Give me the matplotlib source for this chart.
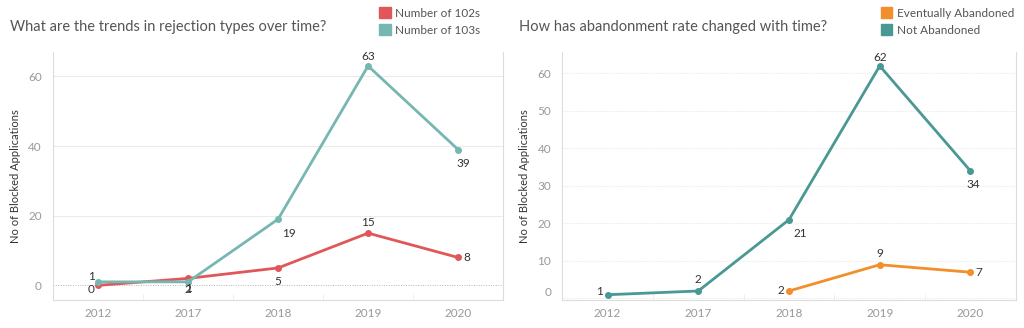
import matplotlib.pyplot as plt
from matplotlib.patches import Patch

years = ['2012', '2017', '2018', '2019', '2020']

# left chart
n102 = [0, 2, 5, 15, 8]
n103 = [1, 1, 19, 63, 39]
# right chart
abandoned_years = ['2018', '2019', '2020']
abandoned = [2, 9, 7]
not_abandoned = [1, 2, 21, 62, 34]

RED = '#e15759'
LTEAL = '#76b7b2'
ORANGE = '#f28e2b'
DTEAL = '#499894'
GRID = '#ebebeb'
TICK = '#999999'
LBL = '#333333'

plt.rcParams['font.family'] = ['Lato', 'DejaVu Sans']

fig = plt.figure(figsize=(10.24, 3.28), dpi=100)
ax1 = fig.add_axes([0.0518, 0.0854, 0.4395, 0.756])
ax2 = fig.add_axes([0.549, 0.0854, 0.443, 0.756])

x = list(range(len(years)))
xa = [years.index(y) for y in abandoned_years]


def style(ax, ylim, yticks):
    ax.set_xlim(-0.5, len(years) - 0.5)
    ax.set_ylim(*ylim)
    ax.set_yticks(yticks)
    ax.set_xticks(x)
    ax.set_xticklabels(years)
    ax.set_xticks([i + 0.5 for i in x[:-1]], minor=True)
    ax.tick_params(axis='x', which='major', length=0, colors=TICK, labelsize=8.5, pad=6)
    ax.tick_params(axis='x', which='minor', length=4, color=GRID, direction='in')
    ax.tick_params(axis='y', length=0, colors=TICK, labelsize=8.5, pad=8)
    ax.grid(axis='y', color=GRID, lw=0.8)
    ax.set_axisbelow(True)
    for s in ['left', 'right', 'bottom']:
        ax.spines[s].set_color('#dcdcdc')
        ax.spines[s].set_linewidth(0.8)
    ax.spines['top'].set_visible(False)
    ax.set_ylabel('No of Blocked Applications', fontsize=8, color=LBL)
    ax.yaxis.set_label_coords(-0.072, 0.5)


def label(ax, xs, ys, offsets, color=LBL):
    for xi, yi, (dx, dy) in zip(xs, ys, offsets):
        ax.annotate(str(yi), (xi, yi), xytext=(dx, dy), textcoords='offset points',
                    ha='center', va='center', fontsize=8.5, color=color)


def legend(ax, handles, x0):
    ax.legend(handles=handles, loc='upper left', bbox_to_anchor=(x0, 0.978),
              bbox_transform=fig.transFigure, frameon=False, fontsize=8.5,
              labelcolor='#555555', handlelength=1.0, handleheight=1.0,
              handletextpad=0.4, labelspacing=0.5, borderaxespad=0, borderpad=0)


# left
style(ax1, (-4.2, 67), [0, 20, 40, 60])
ax1.grid(False)
for v in [20, 40, 60]:
    ax1.axhline(v, color=GRID, lw=0.8, zorder=0)
ax1.axhline(0, color='#b5b5b5', lw=0.7, ls=(0, (1, 1.5)), zorder=0)
ax1.plot(x, n102, color=RED, lw=2, marker='o', ms=4, zorder=3)
ax1.plot(x, n103, color=LTEAL, lw=2, marker='o', ms=4, zorder=3)
label(ax1, x, n102, [(-5, -3), (0, -8), (0, -10), (0, 8), (6, 0)])
label(ax1, x, n103, [(-5, 4), (0, -5), (8, -10), (0, 7), (4, -10)])
ax1.set_title('What are the trends in rejection types over time?', loc='left',
              fontsize=10.5, color='#555555', x=-0.095, y=1.05)
legend(ax1, [Patch(color=RED, label='Number of 102s'),
             Patch(color=LTEAL, label='Number of 103s')], 0.37)

# right
style(ax2, (-0.4, 65.7), [0, 10, 20, 30, 40, 50, 60])
ax2.grid(axis='y', color=GRID, lw=0.8, ls=(0, (1, 1)))
ax2.get_yticklabels()[0].set_va('bottom')
ax2.plot(x, not_abandoned, color=DTEAL, lw=2, marker='o', ms=4, zorder=3)
ax2.plot(xa, abandoned, color=ORANGE, lw=2, marker='o', ms=4, zorder=3)
label(ax2, x, not_abandoned, [(-6, 2), (0, 8), (8, -10), (0, 6), (2, -10)])
label(ax2, xa, abandoned, [(-6, 0), (0, 8), (6, 0)])
ax2.set_title('How has abandonment rate changed with time?', loc='left',
              fontsize=10.5, color='#555555', x=-0.095, y=1.05)
legend(ax2, [Patch(color=ORANGE, label='Eventually Abandoned'),
             Patch(color=DTEAL, label='Not Abandoned')], 0.86)

fig.savefig('out.png', dpi=100)
